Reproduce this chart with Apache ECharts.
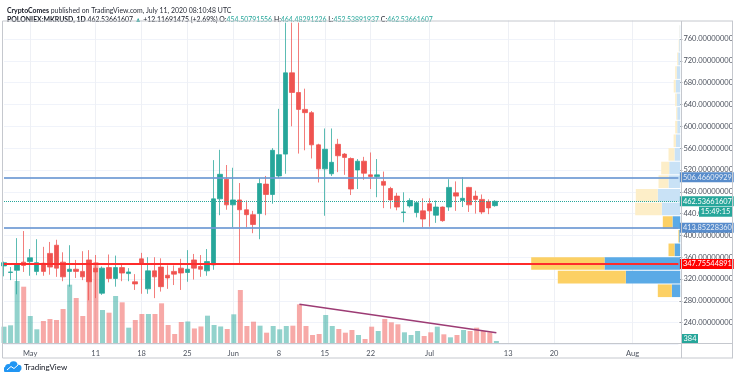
<!DOCTYPE html>
<html><head><meta charset="utf-8">
<script src="https://cdn.jsdelivr.net/npm/echarts@6/dist/echarts.min.js"></script>
<style>html,body{margin:0;padding:0;background:#fff}#c{width:736px;height:379px}</style>
</head><body><div id="c"></div>
<script>
const FONT = 'Lato, "Noto Sans", sans-serif';
// ---- data ----
const firstDate = '2020-04-27';
const lastAxisDate = '2020-08-08';
const open  = [344,332,336,351,352,334,349,367,382,351,334,338,334,355,340,294,341,321,341,330,315,357,302,335,342,327,334,340,332,355,343,335,346,467,503,456,465,447,438,440,494,475,509,549,698,662,631,625,566,522,513,567,549,541,520,536,511,508,499,486,472,442,454,442,445,458,437,452,452,478,464,488,472,466,462,454.50791556];
const high  = [352,342,395,408,375,393,379,388,392,369,382,355,371,373,364,343,365,363,348,340,329,368,360,360,358,345,345,357,373,366,364,375,538,557,529,524,496,464,445,505,509,560,632,790,790,790,669,628,568,596,596,577,551,543,540,544,552,540,517,489,478,479,468,462,468,468,464,453,503,499,507,489,482,475,466,464.48291226];
const low   = [325,318,292,333,326,327,326,328,324,316,306,322,318,281,285,291,314,306,316,316,300,293,293,285,297,302,309,300,315,319,324,326,337,437,447,415,348,415,404,393,437,458,505,513,600,550,556,541,497,436,509,516,511,474,485,502,485,470,450,449,446,424,451,433,415,416,423,425,445,445,452,443,440,439,439,452.53891937];
const close = [350,333,347,345,359,350,334,342,340,324,338,334,324,315,333,340,321,341,331,333,311,347,335,324,306,322,329,331,338,340,338,352,467,512,456,465,447,438,420,495,475,556,548,698,662,631,625,566,522,558,534,546,543,485,536,514,508,511,492,465,452,443,464,460,430,445,452,427,488,472,468,456,466,443,450.42,462.53661607];
const volume = [3100,3360,11780,10700,5130,2600,4180,4560,4370,6460,11080,8550,5130,14630,15390,6270,5760,8930,7730,2910,4370,5510,5510,5510,7540,3420,1710,3990,4090,2760,3140,5190,3420,3140,2660,5450,10070,3230,4050,3290,1960,3230,2600,3230,3290,7350,3230,1520,1710,5320,3230,2660,1960,2470,1520,760,3100,2280,4560,3930,3550,2030,1520,2280,1330,2030,3100,1650,1080,1520,2470,2280,2910,2280,2030,384];
const xTickDates  = ['2020-05-01','2020-05-11','2020-05-18','2020-05-25','2020-06-01','2020-06-08','2020-06-15','2020-06-22','2020-07-01','2020-07-13','2020-07-20','2020-08-01'];
const xTickLabels = ['May','11','18','25','Jun','8','15','22','Jul','13','20','Aug'];
const levelResistance = 506.46609929;
const levelSupport = 413.85228360;
const levelBase = 347.75544891;
const countdownText = '15:49:15';
const profileBinLow  = [286,311,336,361,386,411,436,461,486,511,536,561,586,611,636,661,686,711,736,761];
const profileBinSize = 25;
const profileUp      = [840,5440,7570,570,100,770,1840,2240,1170,1100,570,430,300,300,350,450,350,200,100,50];
const profileDown    = [1400,6800,7330,600,80,970,2660,2200,1000,800,600,230,200,100,150,200,150,100,50,20];
const profileValueArea = [1,1,1,1,1,1,0,0,0,0,0,0,0,0,0,0,0,0,0,0];
const trendLine = [['2020-06-11',7350],['2020-07-11',1960]];

// ---- build ----
function dateList(a,b){const out=[];let d=new Date(a+'T00:00:00Z');const e=new Date(b+'T00:00:00Z');while(d<=e){out.push(d.toISOString().slice(0,10));d=new Date(d.getTime()+86400000);}return out;}
const cats = dateList(firstDate,lastAxisDate);
const dataDates = cats.slice(0, open.length);
const tickMap = {}; xTickDates.forEach((d,i)=>tickMap[d]=xTickLabels[i]);
const UP='#26a69a', DOWN='#ef5350';
const candleData = open.map((o,i)=>[o,close[i],low[i],high[i]]);
const volData = volume.map((v,i)=>({value:[dataDates[i],v],itemStyle:{color: close[i]>=open[i]?'rgba(38,166,154,0.5)':'rgba(239,83,80,0.5)'}}));
const profileData = profileBinLow.map((lo,i)=>[lo,lo+profileBinSize,profileUp[i],profileDown[i],profileValueArea[i]]);
const lastClose = close[close.length-1];
const lastVol = volume[volume.length-1];

const GL=4, GW=676.2;
const HF=6.9;
const labelBox = (bg)=>({show:true,position:'end',distance:1.5,formatter:p=>Number(p.value).toFixed(8),color:'#fff',backgroundColor:bg,padding:[2,2,1,3],fontSize:7.4,fontFamily:FONT});

const chart = echarts.init(document.getElementById('c'),null,{renderer:'canvas'});
const option = {
  animation:false,
  backgroundColor:'#fff',
  title:[
    {left:2,top:2.5,text:'{b|CryptoComes} published on TradingView.com, July 11, 2020 08:10:48 UTC',
     textStyle:{fontSize:HF,fontWeight:'normal',color:'#2a2e39',fontFamily:FONT,rich:{b:{fontSize:HF,fontWeight:'bold',color:'#131722',fontFamily:FONT}}}},
    {left:2,top:11.5,text:'{b|POLONIEX:MKRUSD, 1D} 462.53661607 {g|▲} +12.11691475 (+2.69%) O:{g|454.50791556} H:{g|464.48291226} L:{g|452.53891937} C:{g|462.53661607}',
     textStyle:{fontSize:HF,fontWeight:'normal',color:'#131722',fontFamily:FONT,rich:{b:{fontSize:HF,fontWeight:'bold',color:'#131722',fontFamily:FONT},g:{fontSize:HF,color:UP,fontFamily:FONT}}}}
  ],
  grid:[
    {left:GL,top:17.2,width:GW,height:327.3},
    {left:GL,top:22,width:GW,height:321},
    {left:GL+GW-200,top:17.2,width:200,height:327.3}
  ],
  xAxis:[
    {type:'category',gridIndex:0,data:cats,boundaryGap:false,
     axisLine:{show:false},axisTick:{show:false},
     axisLabel:{interval:(i,v)=>v in tickMap,formatter:v=>tickMap[v]||'',fontSize:7.5,color:'#4c525e',fontFamily:FONT,margin:5},
     splitLine:{show:true,interval:(i,v)=>v in tickMap,lineStyle:{color:'#eef0f5',width:1}}},
    {type:'category',gridIndex:1,data:cats,boundaryGap:false,show:false},
    {type:'value',gridIndex:2,min:0,max:20000,inverse:true,show:false}
  ],
  yAxis:[
    {type:'value',gridIndex:0,position:'right',offset:1,min:200,max:800,interval:40,
     axisLine:{show:false},axisTick:{show:true,length:3,lineStyle:{color:'#9598a1'}},
     axisLabel:{showMinLabel:false,showMaxLabel:false,formatter:v=>v.toFixed(8),fontSize:7.5,color:'#4c525e',fontFamily:FONT,margin:4},
     splitLine:{show:true,lineStyle:{color:'#f0f3fa',width:1}}},
    {type:'value',gridIndex:1,min:0,max:61000,show:false},
    {type:'value',gridIndex:2,min:200,max:800,show:false}
  ],
  series:[
    {type:'bar',name:'Volume',xAxisIndex:1,yAxisIndex:1,data:volData,barWidth:5,z:1},
    {type:'custom',name:'Profile',xAxisIndex:2,yAxisIndex:2,data:profileData,z:1,
     encode:{x:[2,3],y:[0,1]},
     renderItem:function(params,api){
       const lo=api.value(0),hi=api.value(1),up=api.value(2),dn=api.value(3),va=api.value(4);
       const p0=api.coord([0,lo]),p1=api.coord([up,hi]),p2=api.coord([up+dn,hi]);
       const top=p1[1]+0.5,bot=p0[1]-0.5;
       return {type:'group',children:[
         {type:'rect',shape:{x:p1[0],y:top,width:p0[0]-p1[0],height:bot-top},style:{fill:va?'#5aaae6':'#c9e2f6'}},
         {type:'rect',shape:{x:p2[0],y:top,width:p1[0]-p2[0],height:bot-top},style:{fill:va?'#fcd064':'#fdeec8'}}
       ]};
     }},
    {type:'line',name:'Trend',xAxisIndex:1,yAxisIndex:1,data:trendLine,symbol:'none',z:3,
     lineStyle:{color:'#9c3b74',width:1.5}},
    {type:'candlestick',name:'MKRUSD',xAxisIndex:0,yAxisIndex:0,data:candleData,barWidth:5,z:4,
     itemStyle:{color:UP,color0:DOWN,borderColor:'rgba(38,166,154,0.75)',borderColor0:'rgba(239,83,80,0.75)',borderWidth:1},
     markLine:{symbol:'none',silent:true,animation:false,precision:8,
       data:[
         {yAxis:levelResistance,lineStyle:{color:'#6f9ad3',width:2,type:'solid',opacity:0.85},label:labelBox('#3b78c2')},
         {yAxis:levelSupport,lineStyle:{color:'#6f9ad3',width:2,type:'solid',opacity:0.85},label:labelBox('#3b78c2')},
         {yAxis:levelBase,lineStyle:{color:'#ff2b2b',width:2,type:'solid'},label:labelBox('#ff0000')},
         {yAxis:lastClose,lineStyle:{color:UP,width:1,type:'dotted'},label:labelBox(UP)}
       ]}}
  ]
};
chart.setOption(option);

const yCur = chart.convertToPixel({yAxisIndex:0},lastClose);
const frame = '#c5c8ce';
const LOGO='#2196f3';
chart.setOption({graphic:[
  {type:'rect',z:5,shape:{x:0,y:0,width:736,height:20.5},style:{fill:'#fff'}},
  {type:'line',z:20,shape:{x1:2.5,y1:21,x2:733,y2:21},style:{stroke:frame,lineWidth:1}},
  {type:'line',z:20,shape:{x1:2.5,y1:21,x2:2.5,y2:358},style:{stroke:frame,lineWidth:1}},
  {type:'line',z:20,shape:{x1:732.5,y1:21,x2:732.5,y2:358},style:{stroke:frame,lineWidth:1}},
  {type:'line',z:20,shape:{x1:2.5,y1:358,x2:733,y2:358},style:{stroke:frame,lineWidth:1}},
  {type:'line',z:20,shape:{x1:2.5,y1:343.5,x2:733,y2:343.5},style:{stroke:frame,lineWidth:1}},
  {type:'line',z:20,shape:{x1:681.5,y1:21,x2:681.5,y2:358},style:{stroke:frame,lineWidth:1}},
  {type:'rect',z:30,shape:{x:699,y:yCur+5.5,width:33,height:10},style:{fill:UP}},
  {type:'text',z:31,style:{x:715.5,y:yCur+10.8,text:countdownText,fill:'#fff',font:'7.4px '+FONT,align:'center',verticalAlign:'middle'}},
  {type:'rect',z:30,shape:{x:682,y:334,width:16,height:9},style:{fill:UP}},
  {type:'text',z:31,style:{x:690,y:338.8,text:String(lastVol),fill:'#fff',font:'7.4px '+FONT,align:'center',verticalAlign:'middle'}},
  {type:'rect',z:30,shape:{x:4,y:367,width:16,height:5,r:1},style:{fill:LOGO}},
  {type:'circle',z:30,shape:{cx:8.5,cy:367.5,r:3.5},style:{fill:LOGO}},
  {type:'circle',z:30,shape:{cx:13.5,cy:365.2,r:4},style:{fill:LOGO}},
  {type:'circle',z:30,shape:{cx:18.3,cy:368,r:3.2},style:{fill:LOGO}},
  {type:'polyline',z:31,shape:{points:[[7,370],[11,366.5],[14,368.5],[18,365]]},style:{stroke:'#fff',lineWidth:1,fill:null}},
  {type:'text',z:30,style:{x:24,y:367.5,text:'TradingView',fill:'#131722',font:'8px '+FONT,verticalAlign:'middle'}}
]});
</script></body></html>
